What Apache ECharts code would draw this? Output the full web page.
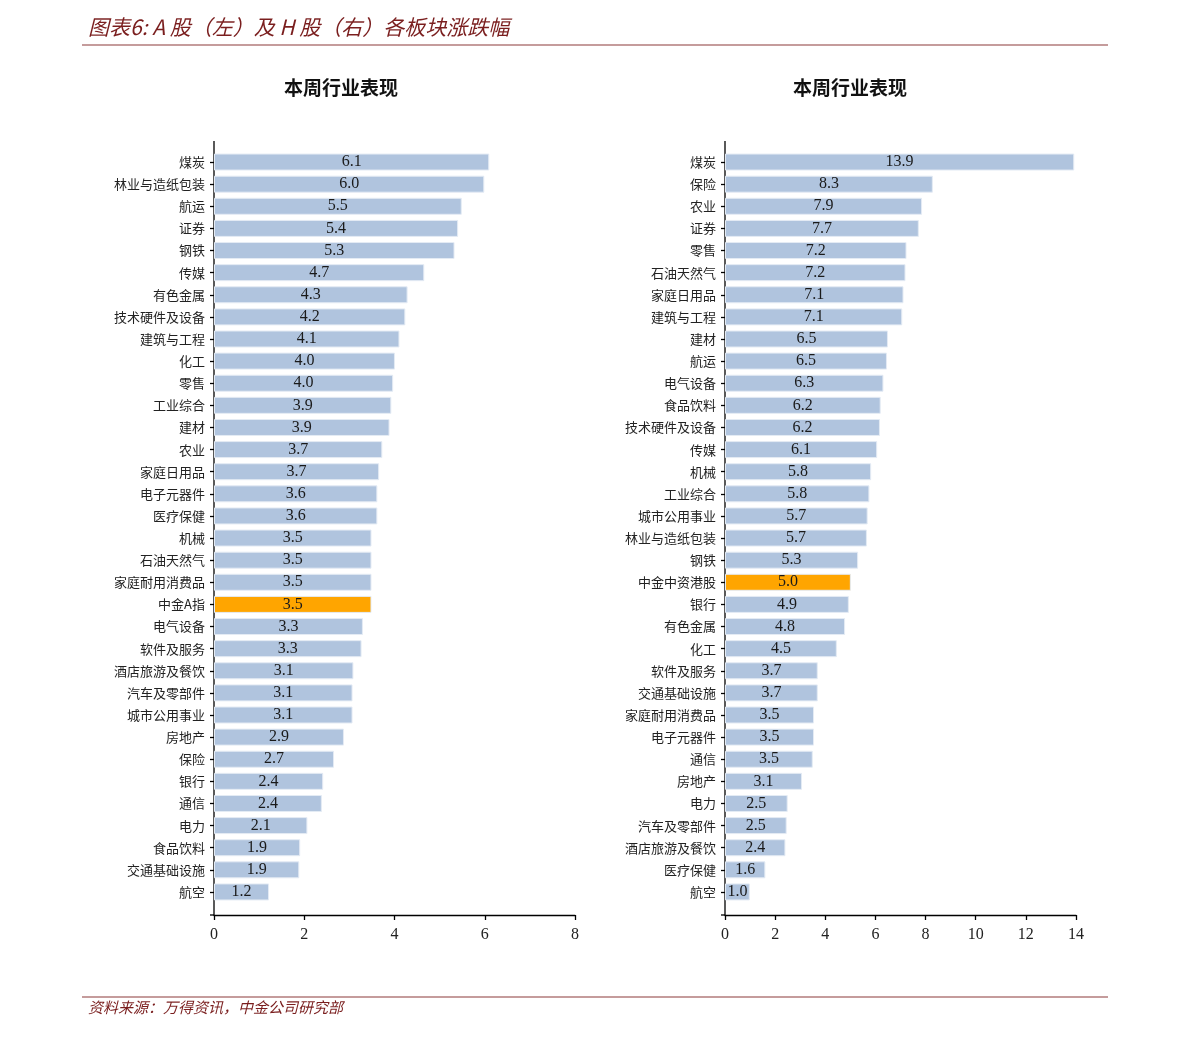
<!DOCTYPE html>
<html>
<head>
<meta charset="utf-8">
<script src="https://cdn.jsdelivr.net/npm/echarts@6/dist/echarts.min.js"></script>
<style>
html,body{margin:0;padding:0;background:#fff;}
#c{width:1191px;height:1038px;}
</style>
</head>
<body>
<div id="c"></div>
<script>
// A股 (left)
const aCategories = ['煤炭','林业与造纸包装','航运','证券','钢铁','传媒','有色金属','技术硬件及设备','建筑与工程','化工','零售','工业综合','建材','农业','家庭日用品','电子元器件','医疗保健','机械','石油天然气','家庭耐用消费品','中金A指','电气设备','软件及服务','酒店旅游及餐饮','汽车及零部件','城市公用事业','房地产','保险','银行','通信','电力','食品饮料','交通基础设施','航空'];
const aValues = [6.10,5.99,5.49,5.41,5.33,4.66,4.29,4.24,4.11,4.01,3.97,3.93,3.89,3.73,3.66,3.62,3.62,3.49,3.49,3.49,3.49,3.30,3.27,3.09,3.07,3.07,2.88,2.66,2.42,2.39,2.07,1.91,1.89,1.22];
const aHighlight = '中金A指';
const aTicks = [0,2,4,6,8];

// H股 (right)
const hCategories = ['煤炭','保险','农业','证券','零售','石油天然气','家庭日用品','建筑与工程','建材','航运','电气设备','食品饮料','技术硬件及设备','传媒','机械','工业综合','城市公用事业','林业与造纸包装','钢铁','中金中资港股','银行','有色金属','化工','软件及服务','交通基础设施','家庭耐用消费品','电子元器件','通信','房地产','电力','汽车及零部件','酒店旅游及餐饮','医疗保健','航空'];
const hValues = [13.93,8.29,7.86,7.73,7.24,7.20,7.12,7.07,6.50,6.46,6.32,6.21,6.18,6.07,5.83,5.76,5.69,5.66,5.31,5.02,4.94,4.79,4.46,3.70,3.70,3.55,3.55,3.50,3.07,2.50,2.46,2.41,1.61,0.99];
const hHighlight = '中金中资港股';
const hTicks = [0,2,4,6,8,10,12,14];

const headerText = '图表6: A 股（左）及 H 股（右）各板块涨跌幅';
const sourceText = '资料来源：万得资讯，中金公司研究部';
const chartTitle = '本周行业表现';

const BAR = '#b0c4de', HL = '#ffa500';
const CJK = '"Noto Sans CJK SC", sans-serif';
const SERIF = '"Liberation Serif", "DejaVu Serif", serif';

function barData(cats, vals, hl){
  return vals.map((v,i)=>({value:v, itemStyle:{color: cats[i]===hl ? HL : BAR}}));
}

const chart = echarts.init(document.getElementById('c'), null, {renderer:'canvas'});

const grids = [
  {left:214, right:1191-575, top:151, bottom:1038-903},
  {left:725, right:1191-1076, top:151, bottom:1038-903}
];

function xAx(gi, max){
  return {
    type:'value', gridIndex:gi, min:0, max:max, interval:2, offset:12,
    axisLine:{show:true, lineStyle:{color:'#000', width:1.3}},
    axisTick:{show:true, length:5, lineStyle:{color:'#000', width:1.3}},
    axisLabel:{color:'#222', fontFamily:SERIF, fontSize:16, margin:12},
    splitLine:{show:false}
  };
}
function yAx(gi, cats){
  return {
    type:'category', gridIndex:gi, data:cats, inverse:true,
    axisLine:{show:false},
    axisTick:{show:true, alignWithLabel:true, length:4, lineStyle:{color:'#000', width:1.3}},
    axisLabel:{color:'#222', fontFamily:CJK, fontSize:13, margin:9}
  };
}
function ser(gi, cats, vals, hl){
  return {
    type:'bar', xAxisIndex:gi, yAxisIndex:gi, data:barData(cats, vals, hl),
    barWidth:17,
    itemStyle:{borderColor:'#e4ebf4', borderWidth:1},
    label:{show:true, position:'inside', color:'#1a1a1a', fontFamily:SERIF, fontSize:16,
      formatter:p=>p.value.toFixed(1)},
    silent:true, animation:false
  };
}

chart.setOption({
  animation:false,
  backgroundColor:'#fff',
  grid:grids,
  xAxis:[xAx(0, aTicks[aTicks.length-1]), xAx(1, hTicks[hTicks.length-1])],
  yAxis:[yAx(0, aCategories), yAx(1, hCategories)],
  series:[ser(0, aCategories, aValues, aHighlight), ser(1, hCategories, hValues, hHighlight)],
  graphic:[
    {type:'text', left:88, top:17, style:{text:headerText, fill:'#7a1e1e', font:'italic 21px '+CJK}},
    {type:'line', shape:{x1:82,y1:45,x2:1108,y2:45}, style:{stroke:'#8b3a3a', lineWidth:1.2}},
    {type:'text', x:341, y:88, style:{text:chartTitle, fill:'#111', font:'bold 19px '+CJK, textAlign:'center', textVerticalAlign:'middle'}},
    {type:'text', x:850, y:88, style:{text:chartTitle, fill:'#111', font:'bold 19px '+CJK, textAlign:'center', textVerticalAlign:'middle'}},
    {type:'line', shape:{x1:214,y1:141,x2:214,y2:915}, style:{stroke:'#000', lineWidth:1.3}},
    {type:'line', shape:{x1:725,y1:141,x2:725,y2:915}, style:{stroke:'#000', lineWidth:1.3}},
    {type:'line', shape:{x1:210,y1:915,x2:214,y2:915}, style:{stroke:'#000', lineWidth:1.3}},
    {type:'line', shape:{x1:721,y1:915,x2:725,y2:915}, style:{stroke:'#000', lineWidth:1.3}},
    {type:'line', shape:{x1:82,y1:997,x2:1108,y2:997}, style:{stroke:'#8b3a3a', lineWidth:1.2}},
    {type:'text', left:88, top:1000, style:{text:sourceText, fill:'#7a1e1e', font:'italic 15px '+CJK}}
  ]
});
</script>
</body>
</html>
